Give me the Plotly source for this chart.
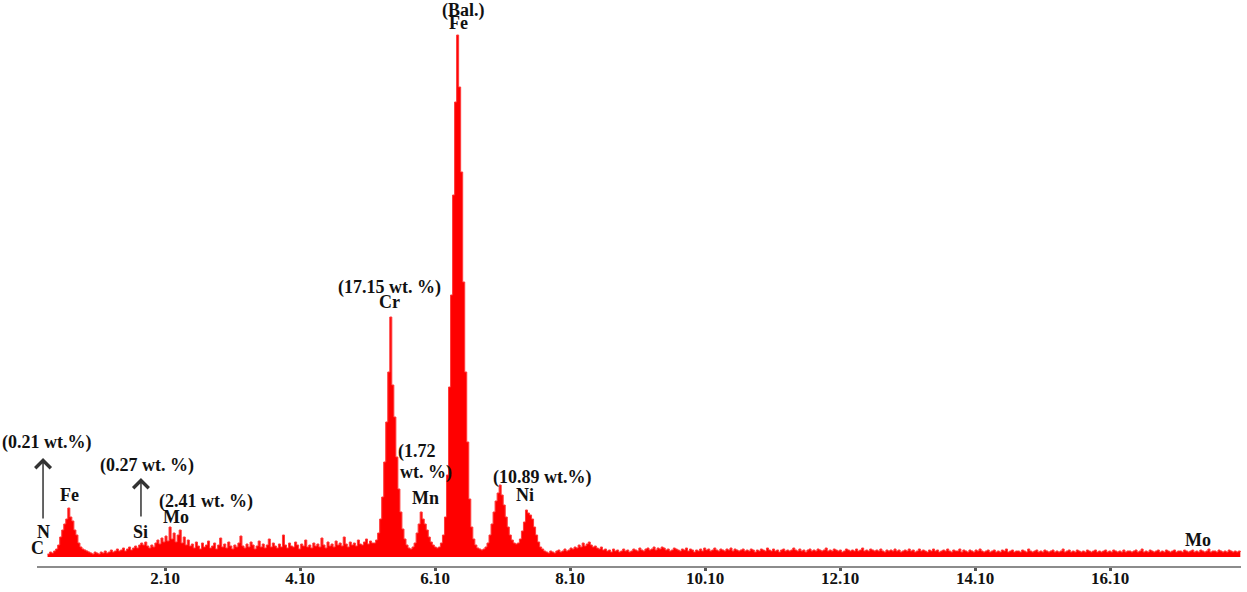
import plotly.graph_objects as go

# ---- EDS spectrum data (counts, one value per 0.03 keV channel) ----
ENERGY_START = 0.36   # keV, first channel
CHANNEL_WIDTH = 0.03  # keV

counts_light_elements = [3, 5, 4, 6, 8, 12, 20, 27, 33, 38, 49, 40, 36, 27, 22, 14, 10, 8, 7, 6, 5]

counts_si_mo_region = [4, 3, 5, 4, 3, 5, 4, 6, 4, 5,
                       7, 5, 6, 8, 6, 7, 9, 6, 8, 10,
                       7, 9, 11, 9, 12, 14, 12, 15, 11, 9,
                       12, 10, 14, 17, 13, 19, 15, 21, 16, 30,
                       18, 24, 15, 22, 27, 14, 20, 12, 17, 11]

counts_background = [13, 9, 15, 11, 8, 14, 10, 12, 16, 9,
                     11, 14, 8, 12, 19, 10, 13, 9, 15, 11,
                     8, 12, 10, 14, 21, 11, 9, 13, 10, 15,
                     12, 8, 11, 16, 10, 13, 9, 12, 18, 10,
                     14, 11, 9, 13, 10, 22, 12, 9, 14, 11,
                     10, 15, 12, 8, 13, 11, 17, 10, 12, 9,
                     14, 11, 13, 10, 19, 12, 9, 15, 11, 13,
                     10, 16, 12, 14, 11, 20, 13, 10, 15, 12,
                     14, 11, 17, 13, 12, 15, 18, 13, 16, 14]

counts_cr_peak = [14, 17, 24, 38, 60, 95, 135, 185, 240, 172,
                  140, 100, 68, 45, 28, 18, 12, 9, 8, 10]

counts_mn_peak = [14, 24, 33, 45, 38, 33, 27, 20, 15, 12, 10, 9, 10]

counts_fe_peak = [14, 22, 40, 82, 170, 262, 362, 455, 522, 470, 385, 275,
                  185, 115, 58, 30, 18, 12, 9, 8, 7, 8]

counts_fekb_ni_peaks = [10, 14, 22, 33, 45, 56, 64, 72, 62, 52,
                        40, 30, 22, 17, 14, 13, 14, 18, 26, 35,
                        47, 44, 42, 38, 30, 22, 15, 10, 8, 6]

counts_high_energy = [5, 4, 6, 5, 4, 6, 7, 5, 6, 8,
                      6, 7, 9, 8, 10, 9, 12, 10, 14, 11,
                      13, 15, 12, 10, 11, 9, 8, 10, 7, 8,
                      6, 7, 5, 8, 6, 7, 5, 6, 8, 6,
                      7, 5, 6, 8, 7, 6, 9, 7, 6, 8,
                      9, 7, 8, 10, 7, 9, 8, 10, 9, 7,
                      8, 6, 7, 9, 8, 7, 6, 8, 7, 9,
                      6, 8, 7, 5, 7, 6, 8, 6, 9, 7,
                      8, 6, 7, 9, 7, 6, 8, 7, 6, 8,
                      7, 9, 6, 8, 7, 6, 7, 8, 6, 7,
                      6, 8, 7, 5, 7, 6, 8, 7, 6, 9,
                      7, 6, 8, 6, 7, 5, 7, 8, 6, 7,
                      6, 7, 9, 7, 6, 8, 6, 7, 5, 7,
                      8, 6, 7, 6, 8, 7, 6, 7, 9, 6,
                      7, 6, 8, 7, 6, 7, 5, 6, 8, 7,
                      6, 7, 6, 8, 6, 7, 9, 6, 7, 6,
                      8, 7, 6, 7, 6, 8, 6, 5, 7, 6,
                      7, 6, 8, 6, 7, 5, 6, 7, 6, 8,
                      6, 7, 5, 6, 8, 6, 7, 6, 5, 7,
                      6, 8, 6, 7, 5, 6, 7, 6, 8, 6,
                      5, 7, 6, 6, 8, 5, 7, 6, 5, 7,
                      6, 5, 7, 6, 8, 6, 5, 6, 7, 5,
                      6, 7, 5, 6, 5, 7, 6, 8, 5, 6,
                      7, 5, 6, 6, 5, 7, 6, 5, 8, 6,
                      5, 6, 7, 5, 6, 5, 7, 6, 5, 6,
                      7, 5, 6, 5, 6, 8, 5, 6, 7, 5,
                      6, 5, 7, 6, 5, 6, 5, 7, 6, 5,
                      6, 7, 5, 6, 5, 6, 7, 5, 6, 5,
                      7, 6, 5, 6, 5, 7, 5, 6, 6, 5,
                      6, 7, 5, 6, 8, 5, 6, 5, 7, 6,
                      5, 6, 7, 5, 6, 5, 7, 6, 5, 6,
                      7, 5, 6, 6, 5, 7, 6, 5, 6, 7,
                      5, 6, 5, 7, 6, 5, 6, 8, 5, 6,
                      6, 5, 7, 6, 5, 6, 5, 7, 6, 5,
                      6, 5, 6, 5]

tick_values = [2.10, 4.10, 6.10, 8.10, 10.10, 12.10, 14.10, 16.10]
tick_labels = ["2.10", "4.10", "6.10", "8.10", "10.10", "12.10", "14.10", "16.10"]

# labels: (text, energy keV, counts)
peak_labels = [
    ("(0.21 wt.%)", 0.337, 115),
    ("N", 0.293, 25),
    ("C", 0.218, 9),
    ("Fe", 0.678, 62),
    ("(0.27 wt. %)", 1.833, 92),
    ("Si", 1.744, 25),
    ("(2.41 wt. %)", 2.707, 56),
    ("Mo", 2.263, 40),
    ("(17.15 wt. %)", 5.419, 270),
    ("Cr", 5.433, 255),
    ("(Bal.)", 6.515, 547),
    ("Fe", 6.441, 534),
    ("(1.72", 5.833, 106),
    ("wt. %)", 5.967, 85),
    ("Mn", 5.952, 59),
    ("(10.89 wt.%)", 7.685, 80),
    ("Ni", 7.433, 62),
    ("Mo", 17.404, 17),
]

# arrows: (energy keV, tail counts, head counts)
arrows = [(0.293, 37, 99), (1.744, 39, 79)]

counts = (counts_light_elements + counts_si_mo_region + counts_background + counts_cr_peak
          + counts_mn_peak + counts_fe_peak + counts_fekb_ni_peaks + counts_high_energy)
energy = [round(ENERGY_START + CHANNEL_WIDTH * i, 4) for i in range(len(counts))]

fig = go.Figure()
fig.add_trace(go.Scatter(
    x=energy, y=counts, mode="lines", line=dict(color="#ff3b3b", width=1, shape="hv"),
    fill="tozeroy", fillcolor="#ff0000", hoverinfo="x+y", showlegend=False,
))

FONT = "Liberation Serif, Times New Roman, serif"
annotations = []
for text, ex, ey in peak_labels:
    annotations.append(dict(x=ex, y=ey, xref="x", yref="y", text=text, showarrow=False,
                            font=dict(family=FONT, size=18, color="#111", weight="bold")))
for ex, tail, head in arrows:
    annotations.append(dict(x=ex, y=head, ax=ex, ay=tail, xref="x", yref="y", axref="x", ayref="y",
                            text="", showarrow=True, arrowhead=4, arrowsize=2.0, arrowwidth=1.5,
                            arrowcolor="#333"))

fig.update_layout(
    width=1247, height=592,
    margin=dict(l=37, r=6, t=5, b=26),
    paper_bgcolor="white", plot_bgcolor="white",
    annotations=annotations,
    xaxis=dict(range=[0.2037, 18.04], tickvals=tick_values, ticktext=tick_labels,
               showgrid=False, zeroline=False, showline=True, linecolor="#8c8c8c", linewidth=2,
               ticks="outside", ticklen=3, tickwidth=3, tickcolor="#555",
               ticklabelstandoff=-7,
               tickfont=dict(family=FONT, size=17, color="#111", weight="bold"),
               automargin=False),
    yaxis=dict(range=[-9, 552], visible=False, showgrid=False, zeroline=False),
)

fig.write_html("out.html", config={"displayModeBar": False},
               post_script="document.body.style.margin='0';document.body.style.overflow='hidden';")
